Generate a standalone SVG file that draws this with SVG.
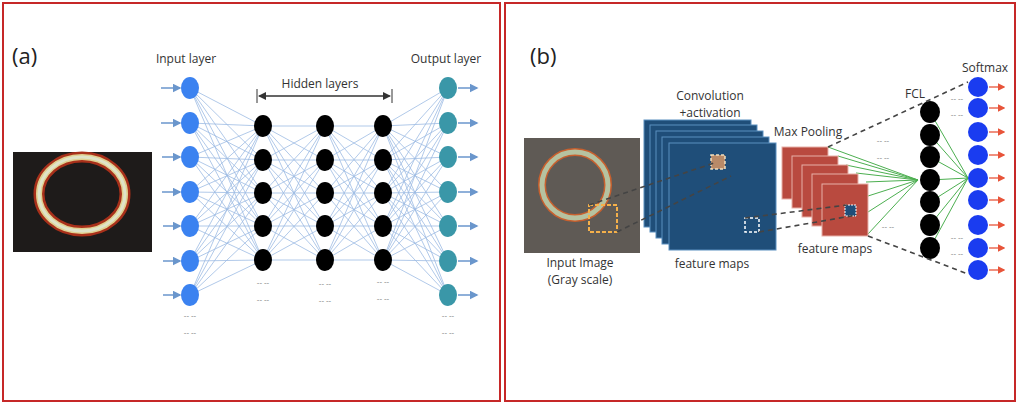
<svg xmlns="http://www.w3.org/2000/svg" width="1018" height="405" viewBox="0 0 1018 405">
<defs>
<style>
text{font-family:"Open Sans","Liberation Sans",sans-serif;fill:#333;font-size:12px}
.lab{font-size:12px;text-anchor:middle}
.dots{font-size:8px;fill:#777;text-anchor:middle}
.w{stroke:#9dbbe3;stroke-width:0.8;fill:none}
.ar{stroke:#6a96cc;stroke-width:1.5;marker-end:url(#ba)}
.ra{stroke:#e8543a;stroke-width:1.3;marker-end:url(#ra)}
.g{stroke:#4caf50;stroke-width:1}
.d{stroke:#444;stroke-width:1.6;stroke-dasharray:5 4;fill:none}
</style>
<marker id="ba" markerWidth="6" markerHeight="6" refX="5" refY="3" orient="auto"><path d="M0,0L6,3L0,6z" fill="#6a96cc"/></marker>
<marker id="ra" markerWidth="6" markerHeight="6" refX="5" refY="3" orient="auto"><path d="M0,0L6,3L0,6z" fill="#e8543a"/></marker>
<marker id="ka" markerWidth="8" markerHeight="8" refX="7" refY="4" orient="auto"><path d="M0,0L8,4L0,8z" fill="#333"/></marker>
</defs>
<rect width="1018" height="405" fill="#fff"/>
<rect x="3" y="3" width="497" height="398" fill="none" stroke="#c62828" stroke-width="2"/>
<rect x="505" y="3" width="510" height="398" fill="none" stroke="#c62828" stroke-width="2"/>

<text x="12" y="64" style="font-size:22px;fill:#222">(a)</text>
<text x="530" y="64" style="font-size:22px;fill:#222">(b)</text>

<g id="image-a">
<rect x="13" y="152" width="139" height="100" fill="#1e1b1a"/>
<ellipse cx="82" cy="194" rx="43" ry="37" fill="none" stroke="#a8301a" stroke-width="11"/>
<ellipse cx="82" cy="194" rx="43" ry="37" fill="none" stroke="#e0d090" stroke-width="6"/>
<ellipse cx="82" cy="194" rx="43" ry="37" fill="none" stroke="#dfe3c8" stroke-width="3"/>
</g>

<g id="connectors">
<g class="w">
<path d="M190 88L263 126M190 88L263 160M190 88L263 193M190 88L263 226M190 88L263 260M190 123L263 126M190 123L263 160M190 123L263 193M190 123L263 226M190 123L263 260M190 157L263 126M190 157L263 160M190 157L263 193M190 157L263 226M190 157L263 260M190 192L263 126M190 192L263 160M190 192L263 193M190 192L263 226M190 192L263 260M190 226L263 126M190 226L263 160M190 226L263 193M190 226L263 226M190 226L263 260M190 261L263 126M190 261L263 160M190 261L263 193M190 261L263 226M190 261L263 260M190 295L263 126M190 295L263 160M190 295L263 193M190 295L263 226M190 295L263 260"/>
<path d="M263 126L325 126M263 126L325 160M263 126L325 193M263 126L325 226M263 126L325 260M263 160L325 126M263 160L325 160M263 160L325 193M263 160L325 226M263 160L325 260M263 193L325 126M263 193L325 160M263 193L325 193M263 193L325 226M263 193L325 260M263 226L325 126M263 226L325 160M263 226L325 193M263 226L325 226M263 226L325 260M263 260L325 126M263 260L325 160M263 260L325 193M263 260L325 226M263 260L325 260"/>
<path d="M325 126L383 126M325 126L383 160M325 126L383 193M325 126L383 226M325 126L383 260M325 160L383 126M325 160L383 160M325 160L383 193M325 160L383 226M325 160L383 260M325 193L383 126M325 193L383 160M325 193L383 193M325 193L383 226M325 193L383 260M325 226L383 126M325 226L383 160M325 226L383 193M325 226L383 226M325 226L383 260M325 260L383 126M325 260L383 160M325 260L383 193M325 260L383 226M325 260L383 260"/>
<path d="M448 88L383 126M448 88L383 160M448 88L383 193M448 88L383 226M448 88L383 260M448 123L383 126M448 123L383 160M448 123L383 193M448 123L383 226M448 123L383 260M448 157L383 126M448 157L383 160M448 157L383 193M448 157L383 226M448 157L383 260M448 192L383 126M448 192L383 160M448 192L383 193M448 192L383 226M448 192L383 260M448 226L383 126M448 226L383 160M448 226L383 193M448 226L383 226M448 226L383 260M448 261L383 126M448 261L383 160M448 261L383 193M448 261L383 226M448 261L383 260M448 295L383 126M448 295L383 160M448 295L383 193M448 295L383 226M448 295L383 260"/>
</g>
<g class="ar">
<line x1="161" y1="88" x2="180" y2="88"/><line x1="161" y1="123" x2="180" y2="123"/><line x1="162" y1="157" x2="180" y2="157"/><line x1="162" y1="192" x2="180" y2="192"/><line x1="163" y1="226" x2="180" y2="226"/><line x1="163" y1="261" x2="180" y2="261"/><line x1="163" y1="295" x2="180" y2="295"/>
<line x1="458" y1="88" x2="477" y2="88"/><line x1="458" y1="123" x2="477" y2="123"/><line x1="458" y1="157" x2="477" y2="157"/><line x1="458" y1="192" x2="477" y2="192"/><line x1="458" y1="226" x2="477" y2="226"/><line x1="458" y1="261" x2="477" y2="261"/><line x1="458" y1="295" x2="477" y2="295"/>
</g>
<line x1="264" y1="96" x2="390" y2="96" stroke="#333" stroke-width="1" marker-end="url(#ka)"/>
<line x1="385" y1="96" x2="259" y2="96" stroke="#333" stroke-width="1" marker-end="url(#ka)"/>
<line x1="257" y1="89" x2="257" y2="103" stroke="#333"/><line x1="392" y1="89" x2="392" y2="103" stroke="#333"/>

<g class="g">
<path d="M828 147L918 180M838 156L918 180M846 165L918 180M856 173L918 180M866 182L918 180M868 196L918 180M868 212L918 180M868 234L918 180"/>
<path d="M930 112L968 178M930 135L968 178M930 157L968 178M930 180L968 178M930 202L968 178M930 225L968 178M930 248L968 178"/>
</g>
<g class="ra">
<line x1="989" y1="87" x2="1004" y2="87"/><line x1="989" y1="108" x2="1004" y2="108"/><line x1="989" y1="132" x2="1004" y2="132"/><line x1="989" y1="155" x2="1004" y2="155"/><line x1="989" y1="178" x2="1004" y2="178"/><line x1="989" y1="200" x2="1004" y2="200"/><line x1="989" y1="225" x2="1004" y2="225"/><line x1="989" y1="248" x2="1004" y2="248"/><line x1="989" y1="270" x2="1004" y2="270"/>
</g>
</g>

<g id="input-layer" fill="#3b82f0">
<ellipse cx="190" cy="88" rx="9" ry="11"/><ellipse cx="190" cy="123" rx="9" ry="11"/><ellipse cx="190" cy="157" rx="9" ry="11"/><ellipse cx="190" cy="192" rx="9" ry="11"/><ellipse cx="190" cy="226" rx="9" ry="11"/><ellipse cx="190" cy="261" rx="9" ry="11"/><ellipse cx="190" cy="295" rx="9" ry="11"/>
</g>
<g id="hidden-1" fill="#000">
<ellipse cx="263" cy="126" rx="9" ry="11"/><ellipse cx="263" cy="160" rx="9" ry="11"/><ellipse cx="263" cy="193" rx="9" ry="11"/><ellipse cx="263" cy="226" rx="9" ry="11"/><ellipse cx="263" cy="260" rx="9" ry="11"/>
</g>
<g id="hidden-2" fill="#000">
<ellipse cx="325" cy="126" rx="9" ry="11"/><ellipse cx="325" cy="160" rx="9" ry="11"/><ellipse cx="325" cy="193" rx="9" ry="11"/><ellipse cx="325" cy="226" rx="9" ry="11"/><ellipse cx="325" cy="260" rx="9" ry="11"/>
</g>
<g id="hidden-3" fill="#000">
<ellipse cx="383" cy="126" rx="9" ry="11"/><ellipse cx="383" cy="160" rx="9" ry="11"/><ellipse cx="383" cy="193" rx="9" ry="11"/><ellipse cx="383" cy="226" rx="9" ry="11"/><ellipse cx="383" cy="260" rx="9" ry="11"/>
</g>
<g id="output-layer" fill="#3a97a8">
<ellipse cx="448" cy="88" rx="9" ry="11"/><ellipse cx="448" cy="123" rx="9" ry="11"/><ellipse cx="448" cy="157" rx="9" ry="11"/><ellipse cx="448" cy="192" rx="9" ry="11"/><ellipse cx="448" cy="226" rx="9" ry="11"/><ellipse cx="448" cy="261" rx="9" ry="11"/><ellipse cx="448" cy="295" rx="9" ry="11"/>
</g>
<g id="labels-a">
<text class="lab" x="186" y="63">Input layer</text>
<text class="lab" x="320" y="88">Hidden layers</text>
<text class="lab" x="446" y="63">Output layer</text>
<text class="dots" x="190" y="318">-- --</text><text class="dots" x="190" y="335">-- --</text>
<text class="dots" x="263" y="285">-- --</text><text class="dots" x="263" y="302">-- --</text>
<text class="dots" x="325" y="286">-- --</text><text class="dots" x="325" y="303">-- --</text>
<text class="dots" x="383" y="284">-- --</text><text class="dots" x="383" y="301">-- --</text>
<text class="dots" x="448" y="318">-- --</text><text class="dots" x="448" y="335">-- --</text>
</g>

<g id="input-image">
<rect x="524" y="138" width="116" height="115" fill="#5f5a55"/>
<circle cx="575" cy="185" r="33" fill="none" stroke="#c8602e" stroke-width="8"/>
<circle cx="575" cy="185" r="33" fill="none" stroke="#b6c2a0" stroke-width="5"/>
<rect x="589" y="205" width="28" height="27" fill="none" stroke="#f5b04a" stroke-width="2" stroke-dasharray="4 2"/>
<text class="lab" x="580" y="267">Input Image</text>
<text class="lab" x="580" y="284">(Gray scale)</text>
</g>
<g id="conv" fill="#1f4e79" stroke="#5b8fc0" stroke-width="1">
<rect x="644" y="120" width="107" height="107"/>
<rect x="650" y="125" width="107" height="107"/>
<rect x="656" y="131" width="107" height="107"/>
<rect x="662" y="137" width="107" height="107"/>
<rect x="669" y="143" width="107" height="107"/>
<rect x="711" y="155" width="14" height="14" fill="#b88a68" stroke="#f0e0c0" stroke-dasharray="3 2" stroke-width="1.5"/>
<rect x="745" y="218" width="14" height="14" fill="none" stroke="#fff" stroke-dasharray="3 2" stroke-width="1.5"/>
<text class="lab" x="710" y="100" stroke="none">Convolution</text>
<text class="lab" x="710" y="117" stroke="none">+activation</text>
<text class="lab" x="712" y="268" stroke="none">feature maps</text>
</g>
<g id="pool" fill="#b94a3f" stroke="#e7b0a8" stroke-width="1">
<rect x="782" y="147" width="46" height="52"/>
<rect x="792" y="156" width="46" height="52"/>
<rect x="802" y="165" width="46" height="52"/>
<rect x="812" y="174" width="46" height="52"/>
<rect x="822" y="184" width="46" height="52"/>
<rect x="845" y="205" width="11" height="11" fill="#1f4e79" stroke="#fff" stroke-dasharray="2 1"/>
<text class="lab" x="808" y="136" stroke="none">Max Pooling</text>
<text class="lab" x="835" y="253" stroke="none">feature maps</text>
</g>
<g id="fcl" fill="#000">
<ellipse cx="930" cy="112" rx="10" ry="11"/><ellipse cx="930" cy="135" rx="10" ry="11"/><ellipse cx="930" cy="157" rx="10" ry="11"/><ellipse cx="930" cy="180" rx="10" ry="11"/><ellipse cx="930" cy="202" rx="10" ry="11"/><ellipse cx="930" cy="225" rx="10" ry="11"/><ellipse cx="930" cy="248" rx="10" ry="11"/>
<text class="lab" x="915" y="98">FCL</text>
</g>
<g id="softmax" fill="#1a3cf0">
<circle cx="978" cy="87" r="10"/><circle cx="978" cy="108" r="10"/><circle cx="978" cy="132" r="10"/><circle cx="978" cy="155" r="10"/><circle cx="978" cy="178" r="10"/><circle cx="978" cy="200" r="10"/><circle cx="978" cy="225" r="10"/><circle cx="978" cy="248" r="10"/><circle cx="978" cy="270" r="10"/>
<text class="lab" x="985" y="72">Softmax</text>
</g>
<g id="dashed-connectors" class="d">
<path d="M589 205L717 162M617 232L731 176M745 218L847 205M759 232L857 215M828 147L968 82M868 236L968 274"/>
</g>
<g id="dots-b">
<text class="dots" x="883" y="143">-- --</text><text class="dots" x="883" y="160">-- --</text><text class="dots" x="888" y="229">-- --</text>
<text class="dots" x="957" y="101">-- --</text><text class="dots" x="957" y="117">-- --</text>
<text class="dots" x="957" y="240">-- --</text><text class="dots" x="957" y="256">-- --</text>
</g>
</svg>
